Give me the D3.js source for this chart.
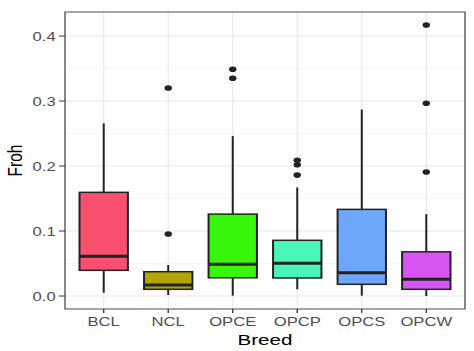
<!DOCTYPE html>
<html><head><meta charset="utf-8">
<script src="https://cdn.jsdelivr.net/npm/d3@7"></script>
<style>html,body{margin:0;padding:0;background:#fff}svg{display:block}</style>
</head><body><svg id="c" width="474" height="351"></svg>
<script>
const categories = ["BCL","NCL","OPCE","OPCP","OPCS","OPCW"];
const colors = ["#F8506E","#B3A300","#38F50C","#48F7B8","#6CA7FA","#D954F5"];
const whiskerLow = [0.005, 0.0015, 0.0005, 0.0103, 0.0005, 0.0];
const q1 = [0.0395, 0.0103, 0.028, 0.0277, 0.018, 0.0103];
const median = [0.061, 0.017, 0.0488, 0.0503, 0.0359, 0.0257];
const q3 = [0.1595, 0.0374, 0.126, 0.0857, 0.1333, 0.068];
const whiskerHigh = [0.2657, 0.0477, 0.246, 0.167, 0.287, 0.126];
const outliers = [[], [0.0954, 0.32], [0.335, 0.349], [0.186, 0.202, 0.209], [], [0.1908, 0.2965, 0.417]];
const yTicks = [0.0, 0.1, 0.2, 0.3, 0.4];
const yMinor = [0.05, 0.15, 0.25, 0.35];

const SX = 1.33;
const L = 65/SX, R = 465/SX, T = 12, B = 309;
const svg = d3.select("#c");
const g = svg.append("g").attr("transform", `scale(${SX},1)`);
const x = d3.scalePoint().domain(categories).range([L, R]).padding(0.6);
const y = d3.scaleLinear().domain([-0.02, 0.437]).range([B, T]);
const bw = x.step() * 0.75;

g.append("rect").attr("x", L).attr("y", T).attr("width", R-L).attr("height", B-T).attr("fill", "#fff");
// grid
g.selectAll(".minor").data(yMinor).join("line")
  .attr("x1", L).attr("x2", R).attr("y1", d=>y(d)).attr("y2", d=>y(d))
  .attr("stroke", "#f2f2f2").attr("stroke-width", 0.6);
g.selectAll(".major").data(yTicks).join("line")
  .attr("x1", L).attr("x2", R).attr("y1", d=>y(d)).attr("y2", d=>y(d))
  .attr("stroke", "#e8e8e8").attr("stroke-width", 1.1);
g.selectAll(".vmajor").data(categories).join("line")
  .attr("x1", d=>x(d)).attr("x2", d=>x(d)).attr("y1", T).attr("y2", B)
  .attr("stroke", "#e8e8e8").attr("stroke-width", 0.85);

// boxes
const dark = "#222";
categories.forEach((c, i) => {
  const cx = x(c);
  g.append("line").attr("x1", cx).attr("x2", cx).attr("y1", y(q3[i])).attr("y2", y(whiskerHigh[i]))
    .attr("stroke", dark).attr("stroke-width", 1.5);
  g.append("line").attr("x1", cx).attr("x2", cx).attr("y1", y(q1[i])).attr("y2", y(whiskerLow[i]))
    .attr("stroke", dark).attr("stroke-width", 1.5);
  g.append("rect").attr("x", cx - bw/2).attr("width", bw)
    .attr("y", y(q3[i])).attr("height", y(q1[i]) - y(q3[i]))
    .attr("fill", colors[i]).attr("stroke", dark).attr("stroke-width", 1.5);
  g.append("line").attr("x1", cx - bw/2).attr("x2", cx + bw/2).attr("y1", y(median[i])).attr("y2", y(median[i]))
    .attr("stroke", dark).attr("stroke-width", 3);
  g.selectAll(null).data(outliers[i]).join("circle")
    .attr("cx", cx).attr("cy", d=>y(d)).attr("r", 2.8).attr("fill", dark);
});

// panel border
g.append("rect").attr("x", L).attr("y", T).attr("width", R-L).attr("height", B-T)
  .attr("fill", "none").attr("stroke", "#4d4d4d").attr("stroke-width", 1);

// axes ticks
const font = "'Liberation Sans', Arial, sans-serif";
g.selectAll(".yt").data(yTicks).join("line")
  .attr("x1", L - 4.5).attr("x2", L).attr("y1", d=>y(d)).attr("y2", d=>y(d))
  .attr("stroke", "#333").attr("stroke-width", 1);
g.selectAll(".ytl").data(yTicks).join("text")
  .attr("x", L - 7).attr("y", d=>y(d)).attr("dy", "0.36em")
  .attr("text-anchor", "end").attr("font-family", font).attr("font-size", 12.5).attr("fill", "#4d4d4d")
  .text(d=>d3.format(".1f")(d));
g.selectAll(".xt").data(categories).join("line")
  .attr("x1", d=>x(d)).attr("x2", d=>x(d)).attr("y1", B).attr("y2", B + 4)
  .attr("stroke", "#333").attr("stroke-width", 1);
g.selectAll(".xtl").data(categories).join("text")
  .attr("x", d=>x(d)).attr("y", 326.5)
  .attr("text-anchor", "middle").attr("font-family", font).attr("font-size", 12.5).attr("fill", "#4d4d4d")
  .text(d=>d);

// titles
g.append("text").attr("x", (L+R)/2).attr("y", 345).attr("text-anchor", "middle")
  .attr("font-family", font).attr("font-size", 15.5).attr("fill", "#000").text("Breed");
g.append("text").attr("transform", `translate(${21.5/SX},${(T+B)/2}) rotate(-90)`)
  .attr("text-anchor", "middle").attr("font-family", font).attr("font-size", 15.5).attr("fill", "#000").text("Froh");
</script></body></html>
